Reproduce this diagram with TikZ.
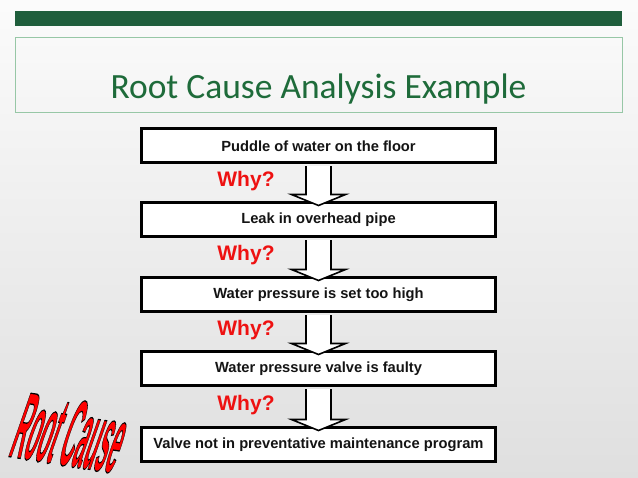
\documentclass[tikz,border=0pt]{standalone}
\usepackage{fontspec}
\setmainfont{Liberation Sans}
\newfontfamily\titlefont{Carlito}
\usetikzlibrary{calc}
\definecolor{bargreen}{HTML}{1F5E3C}
\definecolor{titlegreen}{HTML}{1E6B3A}
\definecolor{framegreen}{HTML}{97C7A6}
\definecolor{whyred}{HTML}{EE1111}
\tikzset{
  stepbox/.style={draw=black, line width=3pt, fill=white, minimum width=354pt, minimum height=34pt, inner sep=0pt,
    font=\fontsize{14.7}{17}\selectfont\bfseries, text=black!92},
  whylabel/.style={font=\fontsize{21}{24}\selectfont\bfseries, text=whyred, inner sep=0pt},
  downarrow/.style={draw=black, line width=1.6pt, fill=white, line join=miter},
}
\begin{document}
\begin{tikzpicture}[x=1pt,y=-1pt]
\useasboundingbox (0,0) rectangle (638,478);
\shade[top color=gray!3, bottom color=gray!25] (0,0) rectangle (638,478);
% header
\fill[bargreen] (15,11) rectangle (622,26);
\draw[framegreen, line width=1pt] (15,38) rectangle (622,113);
\node[font=\titlefont\fontsize{35.5}{40}\selectfont, text=titlegreen, inner sep=0pt] (title) at (318.5,89) {Root Cause Analysis Example};
% boxes
\node[stepbox] (b1) at (318.5,146) {Puddle of water on the floor};
\node[stepbox] (b2) at (318.5,220) {Leak in overhead pipe};
\node[stepbox] (b3) at (318.5,295) {Water pressure is set too high};
\node[stepbox] (b4) at (318.5,369) {Water pressure valve is faulty};
\node[stepbox] (b5) at (318.5,445) {Valve not in preventative maintenance program};
% arrows
\foreach \a/\b in {b1/b2,b2/b3,b3/b4,b4/b5}{
  \draw[downarrow] ($(\a.south)+(-12.5,1.6)$) -- ($(\b.north)+(-12.5,-7)$) -- ($(\b.north)+(-27,-7)$)
    -- ($(\b.north)+(0,4)$) -- ($(\b.north)+(27,-7)$) -- ($(\b.north)+(12.5,-7)$) -- ($(\a.south)+(12.5,1.6)$);
}
% why labels
\node[whylabel] (w1) at ($(b1.south)!0.5!(b2.north)+(-72.5,-2)$) {Why?};
\node[whylabel] (w2) at ($(b2.south)!0.5!(b3.north)+(-72.5,-2)$) {Why?};
\node[whylabel] (w3) at ($(b3.south)!0.5!(b4.north)+(-72.5,-2)$) {Why?};
\node[whylabel] (w4) at ($(b4.south)!0.5!(b5.north)+(-72.5,-2)$) {Why?};
% Root Cause word art
\node[rotate=-9, xslant=0.18, xscale=0.64, yscale=3.2, inner sep=0pt, text=red,
      font=\fontsize{30}{32}\selectfont\bfseries] (rc) at (71,433)
  {\special{pdf:code 2 Tr 0.4 w 0 0 0 RG}Root Cause\special{pdf:code 0 Tr}};
\end{tikzpicture}
\end{document}
